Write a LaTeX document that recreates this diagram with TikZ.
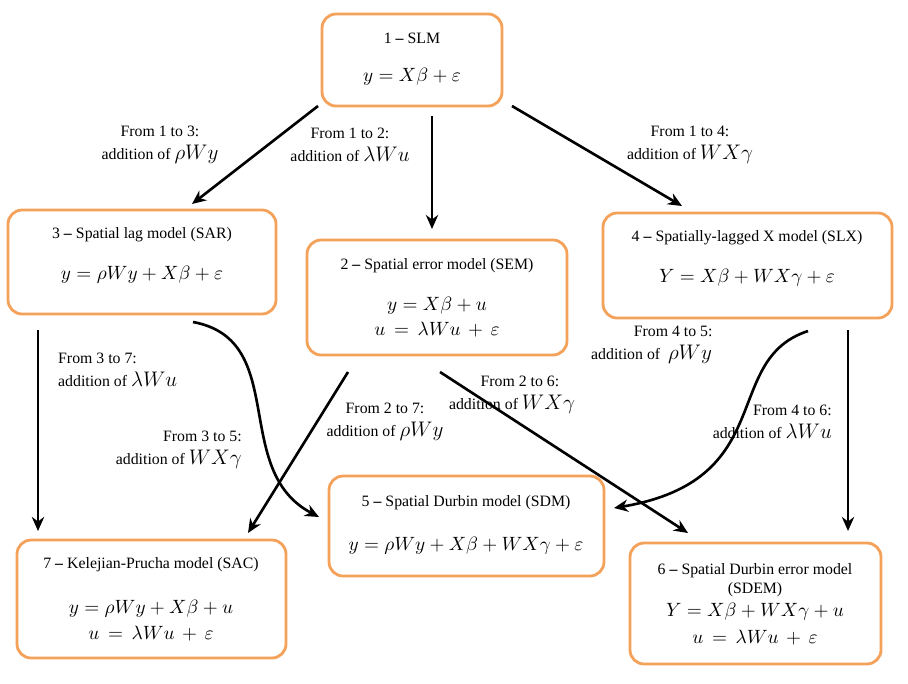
\documentclass[tikz,border=0pt]{standalone}
\usepackage{fontspec}
\setmainfont{Liberation Serif}
\usepackage{amsmath}
\usetikzlibrary{arrows.meta}
\begin{document}
\begin{tikzpicture}[x=0.02cm,y=-0.02cm,
 box/.style={draw=orange!80!yellow!90!black, line width=1.6pt, rounded corners=8pt, fill=white},
 arr/.style={-{Stealth[length=8pt,width=7pt]}, line width=1.5pt},
 lab/.style={font=\fontsize{9}{13}\selectfont, align=center},
 txt/.style={font=\fontsize{9}{11}\selectfont},
 eq/.style={font=\fontsize{11}{13}\selectfont}]
\useasboundingbox (0,0) rectangle (908,683);
\definecolor{ob}{HTML}{F4A15A}
\tikzset{box/.append style={draw=ob}}
% boxes
\draw[box] (322,14) rectangle (502,106); \node (b1) at (412,60) {};
\node[txt] at (412,38) {1 \textbf{–} SLM};
\node[eq] at (412,77) {$y=X\beta+\varepsilon$};

\draw[box] (8,210) rectangle (276,314); \node (b3) at (142,262) {};
\node[txt] at (142,235) {3 \textbf{–} Spatial lag model (SAR)};
\node[eq] at (142,275) {$y=\rho Wy+X\beta+\varepsilon$};

\draw[box] (307,240) rectangle (567,355); \node (b2) at (437,297) {};
\node[txt] at (437,266) {2 \textbf{–} Spatial error model (SEM)};
\node[eq] at (437,306) {$y=X\beta+u$};
\node[eq] at (437,330) {$u\,=\,\lambda Wu\,+\,\varepsilon$};

\draw[box] (603,213) rectangle (892,318); \node (b4) at (747,265) {};
\node[txt] at (747,238) {4 \textbf{–} Spatially-lagged X model (SLX)};
\node[eq] at (747,278) {$Y=X\beta+WX\gamma+\varepsilon$};

\draw[box] (329,476) rectangle (604,576); \node (b5) at (466,526) {};
\node[txt] at (466,503) {5 \textbf{–} Spatial Durbin model (SDM)};
\node[eq] at (466,546) {$y=\rho Wy+X\beta+WX\gamma+\varepsilon$};

\draw[box] (17,540) rectangle (286,658); \node (b7) at (151,599) {};
\node[txt] at (151,565) {7 \textbf{–} Kelejian-Prucha model (SAC)};
\node[eq] at (151,609) {$y=\rho Wy+X\beta+u$};
\node[eq] at (151,634) {$u\,=\,\lambda Wu\,+\,\varepsilon$};

\draw[box] (630,543) rectangle (881,664); \node (b6) at (755,603) {};
\node[txt,align=center] at (755,580) {6 \textbf{–} Spatial Durbin error model\\(SDEM)};
\node[eq] at (755,612) {$Y=X\beta+WX\gamma+u$};
\node[eq] at (755,638) {$u\,=\,\lambda Wu\,+\,\varepsilon$};

% arrow endpoints
\coordinate (a13) at (318,106); \coordinate (e13) at (192,204);
\coordinate (a12) at (432,116); \coordinate (e12) at (432,229);
\coordinate (a14) at (512,106); \coordinate (e14) at (682,206);
\coordinate (a37) at (38,330); \coordinate (e37) at (38,531);
\coordinate (a35) at (193,322); \coordinate (e35) at (319,517);
\coordinate (a27) at (348,372); \coordinate (e27) at (248,533);
\coordinate (a26) at (440,372); \coordinate (e26) at (688,533);
\coordinate (a45) at (808,331); \coordinate (e45) at (614,508);
\coordinate (a46) at (848,330); \coordinate (e46) at (848,531);
\draw[arr] (a13) -- (e13);
\draw[arr] (a12) -- (e12);
\draw[arr] (a14) -- (e14);
\draw[arr] (a37) -- (e37);
\draw[arr] (a35) .. controls (290,340) and (230,470) .. (e35);
\draw[arr] (a27) -- (e27);
\draw[arr] (a26) -- (e26);
\draw[arr] (a45) .. controls (720,360) and (780,480) .. (e45);
\draw[arr] (a46) -- (e46);

% labels
\node[lab] at (160,145) {From 1 to 3:\\addition of {\large$\rho Wy$}};
\node[lab] at (350,145) {From 1 to 2:\\addition of {\large$\lambda Wu$}};
\node[lab] at (690,145) {From 1 to 4:\\addition of {\large$WX\gamma$}};
\node[lab,align=left,anchor=west] at (52,370) {From 3 to 7:\\addition of {\large$\lambda Wu$}};
\node[lab,align=right,anchor=east] at (248,450) {From 3 to 5:\\addition of {\large$WX\gamma$}};
\node[lab] at (385,422) {From 2 to 7:\\addition of {\large$\rho Wy$}};
\node[lab] at (512,395) {\hspace*{1em}From 2 to 6:\\addition of {\large$WX\gamma$}};
\node[lab,align=left,anchor=west] at (585,345) {\hspace*{2.7em}From 4 to 5:\\addition of \ {\large$\rho Wy$}};
\node[lab,align=right,anchor=east] at (838,422) {From 4 to 6:\\addition of {\large$\lambda Wu$}};
\end{tikzpicture}
\end{document}
